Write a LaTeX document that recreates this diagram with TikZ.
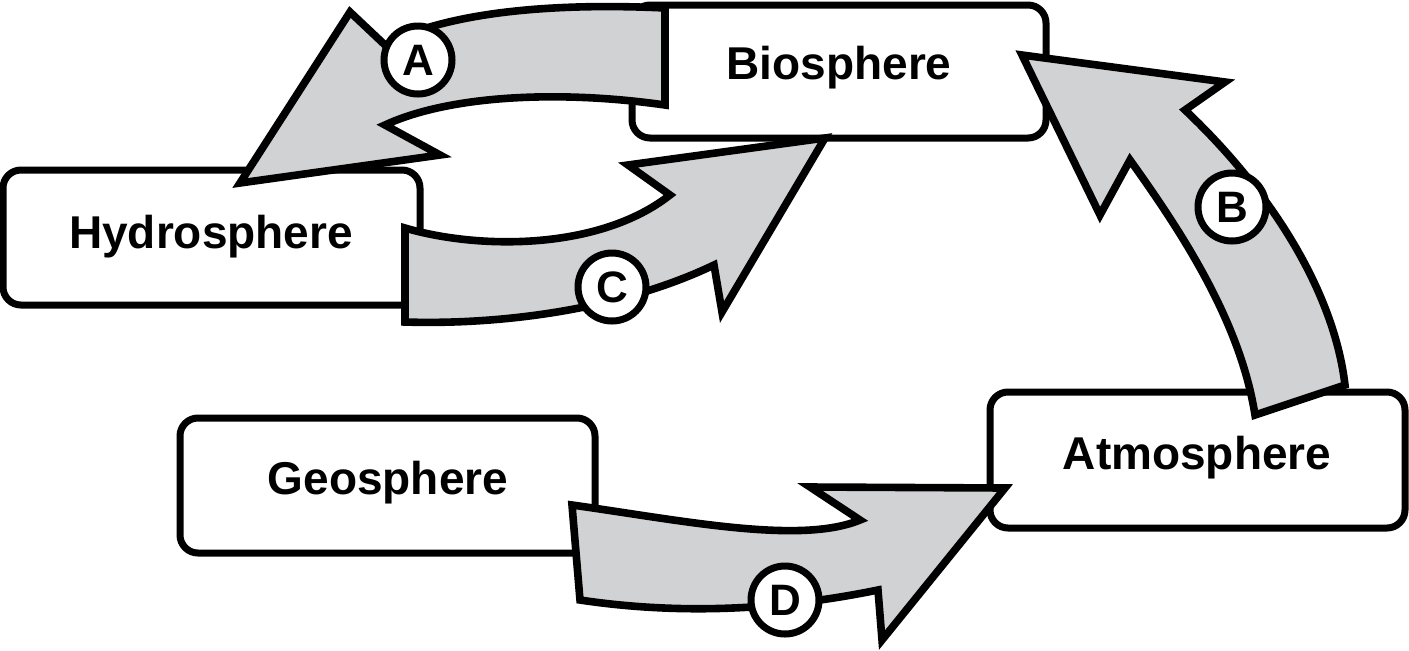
\documentclass[tikz,border=0pt]{standalone}
\usepackage{fontspec}
\setmainfont{Liberation Sans}
\definecolor{agray}{HTML}{D1D2D4}
\begin{document}
\begin{tikzpicture}[x=0.5pt,y=-0.5pt,
 box/.style={draw=black,line width=3.5pt,rounded corners=9pt,fill=white},
 arr/.style={draw=black,line width=3.8pt,fill=agray,line join=miter},
 lab/.style={circle,draw=black,line width=3.5pt,fill=white,minimum size=34pt,inner sep=0pt,font=\fontsize{22}{24}\selectfont\bfseries},
 txt/.style={font=\fontsize{23}{26}\selectfont\bfseries}]
\useasboundingbox (0,0) rectangle (1409,650);
% boxes
\draw[box] (632,5) rectangle (1046,138);
\draw[box] (3,170) rectangle (420,305);
\draw[box] (180,418) rectangle (595,553);
\draw[box] (990,392) rectangle (1405,528);
\node[txt] (bio) at (839,68) {Biosphere};
\node[txt] (hyd) at (211,237) {Hydrosphere};
\node[txt] (geo) at (388,483) {Geosphere};
\node[txt] (atm) at (1197,458) {Atmosphere};
% arrow A
\draw[arr] (665,8) .. controls (540,2) and (440,15) .. (385,45) -- (350,12) -- (240,183) -- (440,155) -- (385,125)
  .. controls (450,95) and (560,90) .. (665,105) -- cycle;
% arrow C
\draw[arr] (405,228) .. controls (480,250) and (600,250) .. (670,195) -- (628,165) -- (825,138) -- (722,312) -- (714,265)
  .. controls (620,310) and (500,325) .. (405,322) -- cycle;
% arrow D
\draw[arr] (572,505) .. controls (680,520) and (800,545) .. (860,520) -- (810,487) -- (1005,488) -- (882,640) -- (878,590)
  .. controls (780,610) and (680,615) .. (580,600) -- cycle;
% arrow B
\draw[arr] (1255,415) .. controls (1240,320) and (1180,230) .. (1130,160) -- (1100,215) -- (1022,55) -- (1225,82) -- (1185,110)
  .. controls (1280,200) and (1335,300) .. (1345,385) -- cycle;
% labels
\node[lab] (la) at (418,60) {A};
\node[lab] (lb) at (1232,207) {B};
\node[lab] (lc) at (612,287) {C};
\node[lab] (ld) at (785,600) {D};
\end{tikzpicture}
\end{document}
